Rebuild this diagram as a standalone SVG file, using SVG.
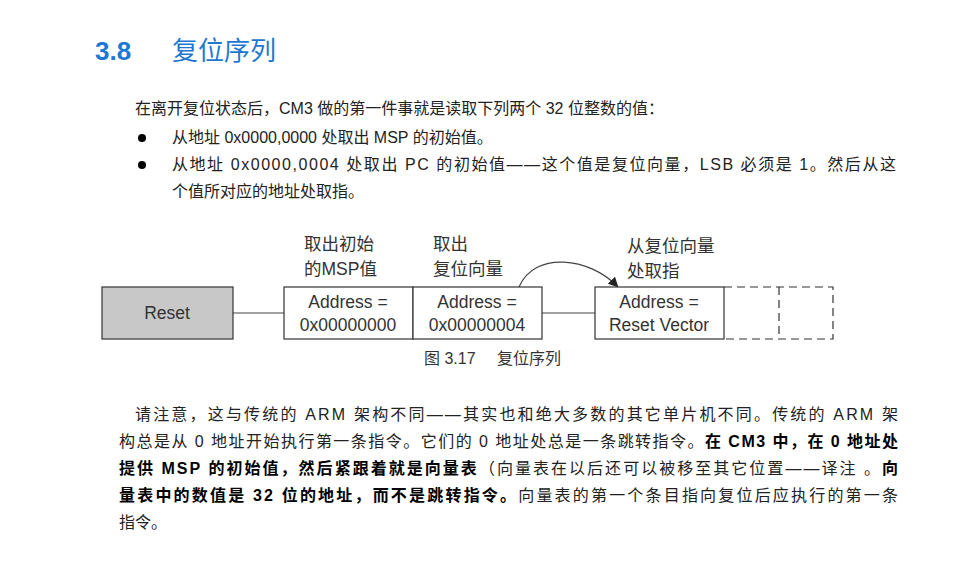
<svg xmlns="http://www.w3.org/2000/svg" width="973" height="577" viewBox="0 0 973 577">
<style>
.t{font-family:"Liberation Sans","Noto Sans CJK SC",sans-serif;font-size:16px;fill:#222}
.b{font-weight:bold;fill:#000}
.d{font-family:"Liberation Sans","Noto Sans CJK SC",sans-serif;font-size:17.5px;fill:#333}
.c{font-family:"Liberation Sans","Noto Sans CJK SC",sans-serif;font-size:16px;fill:#333}
.box{fill:#fff;stroke:#333;stroke-width:1.2}
.dash{fill:none;stroke:#333;stroke-width:1.2;stroke-dasharray:8,5}
</style>
<defs><marker id="ah" markerWidth="10" markerHeight="10" refX="8" refY="5" orient="auto" markerUnits="userSpaceOnUse"><path d="M0,0 L10,5 L0,10 z" fill="#222"/></marker></defs>
<rect width="973" height="577" fill="#fff"/>
<text x="95" y="60" font-family="Liberation Sans,Noto Sans CJK SC,sans-serif" font-size="26" font-weight="bold" fill="#1e78d2">3.8</text>
<text x="172" y="60" font-family="Noto Sans CJK SC,sans-serif" font-size="26" fill="#1e78d2">复位序列</text>
<text class="t" x="135" y="114">在离开复位状态后，CM3 做的第一件事就是读取下列两个 32 位整数的值：</text>
<circle cx="142" cy="138" r="4" fill="#000"/>
<text class="t" x="172" y="143">从地址 0x0000,0000 处取出 MSP 的初始值。</text>
<circle cx="142" cy="165" r="4" fill="#000"/>
<text class="t" x="172" y="170" textLength="724" lengthAdjust="spacing">从地址 0x0000,0004 处取出 PC 的初始值——这个值是复位向量，LSB 必须是 1。然后从这</text>
<text class="t" x="172" y="197">个值所对应的地址处取指。</text>
<g id="connectors" fill="none" stroke="#444" stroke-width="1.2">
<line x1="233" y1="313" x2="284" y2="313"/>
<line x1="542" y1="313" x2="595" y2="313"/>
<path d="M519,287 C535,250 590,258 617,286" marker-end="url(#ah)"/>
</g>
<g id="reset"><rect x="102" y="287" width="131" height="52" fill="#c8c8c8" stroke="#333" stroke-width="1.2"/><text class="d" x="167" y="319" text-anchor="middle">Reset</text></g>
<g id="addr0"><rect class="box" x="284" y="287" width="129" height="52"/><text class="d" x="348" y="308" text-anchor="middle">Address =</text><text class="d" x="348" y="331" text-anchor="middle">0x00000000</text>
<text class="d" x="304" y="250">取出初始</text><text class="d" x="304" y="275">的MSP值</text></g>
<g id="addr4"><rect class="box" x="413" y="287" width="129" height="52"/><text class="d" x="477" y="308" text-anchor="middle">Address =</text><text class="d" x="477" y="331" text-anchor="middle">0x00000004</text>
<text class="d" x="433" y="250">取出</text><text class="d" x="433" y="275">复位向量</text></g>
<g id="rv"><rect class="box" x="595" y="287" width="129" height="52"/><text class="d" x="659" y="308" text-anchor="middle">Address =</text><text class="d" x="659" y="331" text-anchor="middle">Reset Vector</text>
<text class="d" x="627" y="252">从复位向量</text><text class="d" x="627" y="277">处取指</text></g>
<g id="dashed">
<path class="dash" d="M724,287 H833 V339 H724"/>
<line class="dash" x1="779" y1="287" x2="779" y2="339"/>
</g>
<text class="c" x="424" y="364">图 3.17</text>
<text class="c" x="497" y="364">复位序列</text>
<text class="t" x="135" y="420" textLength="763" lengthAdjust="spacing">请注意，这与传统的 ARM 架构不同——其实也和绝大多数的其它单片机不同。传统的 ARM 架</text>
<text class="t" x="119" y="447" textLength="779" lengthAdjust="spacing">构总是从 0 地址开始执行第一条指令。它们的 0 地址处总是一条跳转指令。<tspan class="b">在 CM3 中，在 0 地址处</tspan></text>
<text class="t" x="119" y="474" textLength="779" lengthAdjust="spacing"><tspan class="b">提供 MSP 的初始值，然后紧跟着就是向量表</tspan>（向量表在以后还可以被移至其它位置——译注 。<tspan class="b">向</tspan></text>
<text class="t" x="119" y="501" textLength="779" lengthAdjust="spacing"><tspan class="b">量表中的数值是 32 位的地址，而不是跳转指令。</tspan>向量表的第一个条目指向复位后应执行的第一条</text>
<text class="t" x="119" y="528">指令。</text>
</svg>
